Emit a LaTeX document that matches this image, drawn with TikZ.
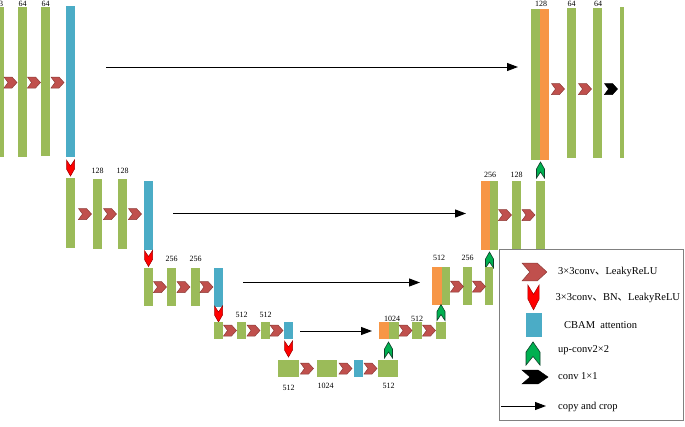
\documentclass[tikz,border=0pt]{standalone}
\usepackage{fontspec}
\setmainfont{Liberation Serif}
\newfontfamily\cjk{Noto Sans CJK SC}
\usetikzlibrary{arrows.meta}
\definecolor{bargreen}{HTML}{9BBB59}
\definecolor{barcyan}{HTML}{4BACC6}
\definecolor{barorange}{HTML}{F79646}
\definecolor{chevred}{HTML}{C0504D}
\definecolor{chevdark}{HTML}{8C3A36}
\definecolor{vred}{HTML}{FF0000}
\definecolor{vdark}{HTML}{A00000}
\definecolor{upgreen}{HTML}{00B050}
\definecolor{updark}{HTML}{10402A}
\definecolor{legborder}{HTML}{808080}
\newcommand{\ubar}[6]{%
  \node[inner sep=0pt, outer sep=0pt, fill=#6, minimum width={#4-#2}, minimum height={#5-#3}] (#1) at ({(#2+#4)/2},{(#3+#5)/2}) {};}
\tikzset{
  lab/.style={inner sep=0pt, font=\fontsize{8}{9}\selectfont},
  legtxt/.style={inner sep=0pt, anchor=west, font=\fontsize{10.5}{12}\selectfont},
  copyarrow/.style={line width=1pt, -{Triangle[length=11pt,width=8pt]}},
  chev/.pic={\filldraw[fill=chevred, draw=chevdark, line width=0.5pt] (-6.5,-5.5) -- (1.5,-5.5) -- (6.5,0) -- (1.5,5.5) -- (-6.5,5.5) -- (-2.5,0) -- cycle;},
  blackchev/.pic={\filldraw[fill=black, draw=black, line width=0.5pt] (-6.5,-5.5) -- (1.5,-5.5) -- (6.5,0) -- (1.5,5.5) -- (-6.5,5.5) -- (-2.5,0) -- cycle;},
  downv/.pic={\filldraw[fill=vred, draw=vdark, line width=0.5pt] (-4,-8) -- (0,-2) -- (4,-8) -- (4,1) -- (0,8) -- (-4,1) -- cycle;},
  upv/.pic={\filldraw[fill=upgreen, draw=updark, line width=0.6pt] (-4,8) -- (0,2) -- (4,8) -- (4,-1) -- (0,-8) -- (-4,-1) -- cycle;},
}
\begin{document}
\begin{tikzpicture}[x=1pt,y=-1pt]
\useasboundingbox (0,0) rectangle (685,426);
% ---------- level 1 left
\ubar{a1}{0}{7}{3.5}{157}{bargreen}
\ubar{a2}{18}{7}{27}{157}{bargreen}
\ubar{a3}{41}{7}{50}{156}{bargreen}
\ubar{a4}{66}{6}{75}{157}{barcyan}
\node[lab] (la1) at (1,3.5) {3};
\node[lab] (la2) at (22.5,3.5) {64};
\node[lab] (la3) at (45.5,3.5) {64};
\pic at (10.5,82.5) {chev};
\pic at (34,82.5) {chev};
\pic at (57.5,82.5) {chev};
\pic at (70.5,168) {downv};
% ---------- level 1 right
\ubar{r1g}{531}{9}{540}{160}{bargreen}
\ubar{r1o}{540}{9}{549}{160}{barorange}
\ubar{r12}{567}{8}{576}{158}{bargreen}
\ubar{r13}{593}{8}{602}{158}{bargreen}
\ubar{r14}{620}{7}{624}{158}{bargreen}
\node[lab] (lr1) at (541,3.5) {128};
\node[lab] (lr2) at (571.5,3.5) {64};
\node[lab] (lr3) at (598,3.5) {64};
\pic at (558,89) {chev};
\pic at (585,89) {chev};
\pic at (611,89) {blackchev};
\pic at (540.5,170) {upv};
% ---------- level 2 left
\ubar{b1}{66}{178}{75}{248}{bargreen}
\ubar{b2}{93}{179}{101.5}{249}{bargreen}
\ubar{b3}{118}{179}{127}{249}{bargreen}
\ubar{b4}{144}{181}{153}{250}{barcyan}
\node[lab] (lb2) at (97.5,171) {128};
\node[lab] (lb3) at (122.5,171) {128};
\pic at (85,214) {chev};
\pic at (110,214) {chev};
\pic at (135,214) {chev};
\pic at (148.5,258.5) {downv};
% ---------- level 2 right
\ubar{s1o}{481}{181}{490}{250}{barorange}
\ubar{s1g}{490}{181}{498}{250}{bargreen}
\ubar{s2}{512}{181}{521}{250}{bargreen}
\ubar{s3}{536}{181}{545}{250}{bargreen}
\node[lab] (ls1) at (490,175) {256};
\node[lab] (ls2) at (516.5,175) {128};
\pic at (505,215) {chev};
\pic at (528.5,215) {chev};
\pic at (489.5,260) {upv};
% ---------- level 3 left
\ubar{c1}{144}{268}{153}{306}{bargreen}
\ubar{c2}{167}{268}{176}{306}{bargreen}
\ubar{c3}{191}{268}{199.5}{306}{bargreen}
\ubar{c4}{214}{268}{223}{307}{barcyan}
\node[lab] (lc2) at (171.5,259) {256};
\node[lab] (lc3) at (195.5,259) {256};
\pic at (160,287) {chev};
\pic at (183.5,287) {chev};
\pic at (206.5,287) {chev};
\pic at (218.5,314) {downv};
% ---------- level 3 right
\ubar{t1o}{432}{267}{442}{305}{barorange}
\ubar{t1g}{442}{267}{450}{305}{bargreen}
\ubar{t2}{463}{267}{472}{305}{bargreen}
\ubar{t3}{485}{267}{493}{305}{bargreen}
\node[lab] (lt1) at (439,257.5) {512};
\node[lab] (lt2) at (467.5,257.5) {256};
\pic at (457,286.5) {chev};
\pic at (479,286.5) {chev};
\pic at (441,312.5) {upv};
% ---------- level 4 left
\ubar{d1}{214}{322}{223}{339}{bargreen}
\ubar{d2}{237}{322}{246}{339}{bargreen}
\ubar{d3}{261}{322}{270}{339}{bargreen}
\ubar{d4}{284}{322}{293}{339}{barcyan}
\node[lab] (ld2) at (241.5,314.5) {512};
\node[lab] (ld3) at (265.5,314.5) {512};
\pic at (230,330.5) {chev};
\pic at (253.5,330.5) {chev};
\pic at (276.5,330.5) {chev};
\pic at (288.5,349) {downv};
% ---------- level 4 right
\ubar{u1o}{379}{322}{389}{339}{barorange}
\ubar{u1g}{389}{322}{399}{339}{bargreen}
\ubar{u2}{412}{322}{422}{339}{bargreen}
\ubar{u3}{436}{322}{446}{339}{bargreen}
\node[lab] (lu1) at (392,318.5) {1024};
\node[lab] (lu2) at (417,318.5) {512};
\pic at (405.5,330.5) {chev};
\pic at (429,330.5) {chev};
\pic at (388.5,350) {upv};
% ---------- level 5
\ubar{e1}{278}{360}{299}{377}{bargreen}
\ubar{e2}{317}{360}{337}{377}{bargreen}
\ubar{e3}{354}{360}{363}{377}{barcyan}
\ubar{e4}{378}{360}{398}{377}{bargreen}
\node[lab] (le1) at (288.5,388) {512};
\node[lab] (le2) at (325.5,386) {1024};
\node[lab] (le4) at (388.5,386) {512};
\pic at (307,368.5) {chev};
\pic at (345.5,368.5) {chev};
\pic at (370.5,368.5) {chev};
% ---------- copy and crop arrows
\coordinate (k1s) at (106,67);  \coordinate (k1e) at (518,67);
\coordinate (k2s) at (173,213.5); \coordinate (k2e) at (466,213.5);
\coordinate (k3s) at (243,282.5); \coordinate (k3e) at (420,282.5);
\coordinate (k4s) at (300,331); \coordinate (k4e) at (372,331);
\draw[copyarrow] (k1s) -- (k1e);
\draw[copyarrow] (k2s) -- (k2e);
\draw[copyarrow] (k3s) -- (k3e);
\draw[copyarrow] (k4s) -- (k4e);
% ---------- legend
\node[draw=legborder, line width=0.9pt, inner sep=0pt, minimum width=184pt, minimum height=171pt] (legend) at (591,334.5) {};
\pic[xscale=1.9, yscale=1.6] at (534.5,272) {chev};
\node[legtxt] (g1) at (558,272) {3×3conv{\cjk 、}LeakyReLU};
\pic[xscale=1.4, yscale=1.55] at (533.5,297.5) {downv};
\node[legtxt] (g2) at (555.5,298) {3×3conv{\cjk 、}BN{\cjk 、}LeakyReLU};
\node[inner sep=0pt, fill=barcyan, minimum width=16pt, minimum height=24pt] (gcyan) at (534,325) {};
\node[legtxt] (g3) at (564,325) {CBAM\ \ attention};
\pic[xscale=1.75, yscale=1.45] at (533,353.5) {upv};
\node[legtxt] (g4) at (558,350) {up-conv2×2};
\pic[xscale=2, yscale=1.27] at (535,377) {blackchev};
\node[legtxt] (g5) at (558,376.5) {conv 1×1};
\coordinate (gas) at (501,406); \coordinate (gae) at (546,406);
\draw[copyarrow] (gas) -- (gae);
\node[legtxt] (g6) at (558,406.5) {copy and crop};
\end{tikzpicture}
\end{document}
